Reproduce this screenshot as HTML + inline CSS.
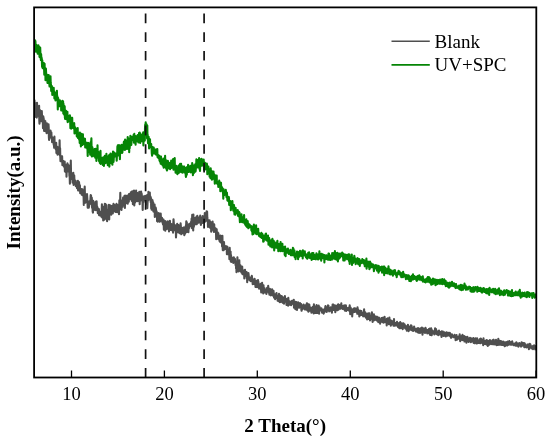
<!DOCTYPE html>
<html><head><meta charset="utf-8"><title>XRD</title>
<style>
html,body{margin:0;padding:0;background:#fff;}
body{width:550px;height:441px;overflow:hidden;}
svg{display:block;}
text{font-family:"Liberation Serif","Times New Roman",serif;fill:#000;}
</style></head><body>
<svg width="550" height="441" viewBox="0 0 550 441">
<rect width="550" height="441" fill="#fff"/>
<defs><clipPath id="c"><rect x="34" y="7.5" width="502.1" height="370"/></clipPath></defs>
<g clip-path="url(#c)" fill="none" stroke-linejoin="round" stroke-linecap="round">
<path d="M34.3,100.0 L34.5,100.3 L34.8,108.2 L35.0,117.0 L35.2,103.1 L35.4,111.3 L35.7,108.9 L35.9,103.9 L36.1,107.6 L36.4,108.2 L36.6,106.8 L36.8,117.6 L37.0,102.7 L37.3,112.2 L37.5,112.4 L37.7,109.2 L38.0,112.5 L38.2,115.8 L38.4,113.3 L38.6,114.8 L38.9,116.3 L39.1,105.8 L39.3,120.2 L39.5,123.8 L39.8,119.0 L40.0,119.6 L40.2,110.3 L40.5,115.8 L40.7,113.5 L40.9,114.8 L41.1,121.3 L41.4,114.7 L41.6,117.8 L41.8,111.1 L42.1,118.4 L42.3,119.8 L42.5,117.0 L42.7,117.4 L43.0,128.1 L43.2,116.2 L43.4,117.2 L43.7,118.6 L43.9,127.0 L44.1,131.0 L44.3,124.3 L44.6,120.6 L44.8,122.1 L45.0,128.5 L45.3,121.0 L45.5,130.8 L45.7,131.1 L45.9,126.2 L46.2,128.9 L46.4,129.7 L46.6,133.3 L46.9,123.4 L47.1,132.7 L47.3,127.0 L47.5,125.9 L47.8,129.8 L48.0,129.0 L48.2,126.4 L48.5,124.4 L48.7,127.4 L48.9,137.4 L49.1,139.9 L49.4,135.1 L49.6,137.7 L49.8,131.4 L50.0,133.6 L50.3,135.5 L50.5,130.6 L50.7,131.4 L51.0,136.2 L51.2,135.0 L51.4,132.6 L51.6,138.8 L51.9,136.7 L52.1,142.3 L52.3,138.7 L52.6,138.0 L52.8,140.2 L53.0,139.5 L53.2,138.0 L53.5,139.6 L53.7,144.7 L53.9,144.8 L54.2,147.8 L54.4,136.5 L54.6,142.2 L54.8,142.6 L55.1,145.4 L55.3,143.5 L55.5,143.7 L55.8,149.4 L56.0,147.5 L56.2,142.7 L56.4,153.1 L56.7,152.2 L56.9,146.5 L57.1,152.5 L57.4,146.9 L57.6,154.7 L57.8,149.9 L58.0,148.1 L58.3,150.3 L58.5,149.2 L58.7,153.5 L58.9,153.9 L59.2,153.9 L59.4,152.0 L59.6,140.3 L59.9,155.6 L60.1,148.2 L60.3,157.1 L60.5,161.1 L60.8,158.2 L61.0,156.1 L61.2,157.4 L61.5,158.0 L61.7,156.9 L61.9,157.2 L62.1,156.3 L62.4,165.1 L62.6,160.8 L62.8,165.1 L63.1,160.8 L63.3,162.5 L63.5,161.9 L63.7,164.9 L64.0,166.7 L64.2,164.8 L64.4,161.6 L64.7,161.6 L64.9,171.5 L65.1,164.3 L65.3,164.6 L65.6,171.9 L65.8,170.8 L66.0,169.0 L66.3,165.7 L66.5,176.8 L66.7,169.5 L66.9,170.4 L67.2,168.0 L67.4,163.4 L67.6,164.1 L67.9,171.3 L68.1,171.5 L68.3,169.4 L68.5,166.1 L68.8,165.4 L69.0,170.1 L69.2,166.0 L69.4,175.6 L69.7,176.9 L69.9,183.8 L70.1,176.5 L70.4,171.1 L70.6,170.3 L70.8,160.6 L71.0,172.1 L71.3,174.1 L71.5,179.0 L71.7,178.0 L72.0,178.2 L72.2,177.1 L72.4,179.3 L72.6,182.7 L72.9,173.3 L73.1,176.1 L73.3,172.9 L73.6,185.0 L73.8,184.2 L74.0,182.5 L74.2,175.3 L74.5,181.0 L74.7,179.9 L74.9,181.5 L75.2,180.9 L75.4,184.1 L75.6,180.9 L75.8,186.2 L76.1,184.3 L76.3,182.6 L76.5,183.7 L76.8,182.8 L77.0,188.2 L77.2,184.3 L77.4,186.9 L77.7,184.7 L77.9,180.8 L78.1,190.5 L78.4,183.3 L78.6,190.4 L78.8,189.8 L79.0,182.1 L79.3,185.2 L79.5,187.2 L79.7,186.4 L79.9,185.3 L80.2,193.1 L80.4,189.7 L80.6,192.4 L80.9,189.6 L81.1,192.8 L81.3,189.0 L81.5,192.1 L81.8,194.8 L82.0,193.0 L82.2,191.4 L82.5,189.2 L82.7,194.4 L82.9,195.4 L83.1,193.4 L83.4,191.7 L83.6,197.1 L83.8,204.9 L84.1,194.4 L84.3,197.2 L84.5,197.6 L84.7,186.5 L85.0,197.2 L85.2,194.3 L85.4,202.7 L85.7,196.6 L85.9,194.8 L86.1,197.3 L86.3,199.1 L86.6,196.5 L86.8,198.7 L87.0,194.0 L87.3,198.6 L87.5,202.7 L87.7,207.6 L87.9,203.0 L88.2,201.6 L88.4,205.4 L88.6,205.0 L88.8,207.7 L89.1,205.7 L89.3,201.3 L89.5,203.0 L89.8,202.9 L90.0,203.7 L90.2,203.5 L90.4,199.9 L90.7,195.1 L90.9,200.8 L91.1,195.8 L91.4,204.1 L91.6,204.1 L91.8,197.8 L92.0,207.2 L92.3,208.1 L92.5,205.3 L92.7,211.6 L93.0,212.6 L93.2,200.9 L93.4,209.7 L93.6,207.6 L93.9,207.7 L94.1,209.9 L94.3,203.8 L94.6,204.4 L94.8,203.7 L95.0,204.2 L95.2,206.9 L95.5,201.9 L95.7,203.7 L95.9,210.2 L96.2,207.9 L96.4,209.8 L96.6,201.3 L96.8,205.8 L97.1,206.9 L97.3,209.4 L97.5,207.3 L97.8,213.3 L98.0,209.8 L98.2,210.3 L98.4,210.5 L98.7,213.3 L98.9,209.0 L99.1,215.3 L99.3,212.9 L99.6,211.9 L99.8,211.6 L100.0,213.5 L100.3,215.5 L100.5,215.3 L100.7,213.2 L100.9,215.2 L101.2,212.4 L101.4,216.8 L101.6,212.0 L101.9,204.2 L102.1,217.4 L102.3,212.7 L102.5,207.8 L102.8,211.6 L103.0,209.0 L103.2,220.5 L103.5,214.4 L103.7,206.5 L103.9,214.6 L104.1,211.0 L104.4,219.8 L104.6,208.4 L104.8,203.9 L105.1,212.7 L105.3,211.1 L105.5,210.8 L105.7,204.2 L106.0,214.0 L106.2,218.7 L106.4,205.0 L106.7,216.7 L106.9,210.0 L107.1,221.2 L107.3,213.8 L107.6,211.4 L107.8,216.3 L108.0,214.0 L108.2,209.7 L108.5,214.6 L108.7,209.9 L108.9,204.9 L109.2,219.4 L109.4,210.2 L109.6,209.1 L109.8,212.6 L110.1,205.2 L110.3,205.8 L110.5,209.0 L110.8,208.8 L111.0,210.9 L111.2,214.7 L111.4,208.5 L111.7,212.0 L111.9,212.3 L112.1,205.7 L112.4,210.5 L112.6,205.9 L112.8,213.4 L113.0,210.9 L113.3,209.0 L113.5,203.7 L113.7,209.1 L114.0,205.6 L114.2,211.1 L114.4,207.8 L114.6,205.0 L114.9,211.4 L115.1,210.5 L115.3,205.3 L115.6,211.9 L115.8,206.1 L116.0,205.9 L116.2,207.4 L116.5,203.9 L116.7,204.9 L116.9,205.8 L117.2,212.1 L117.4,211.8 L117.6,205.0 L117.8,211.9 L118.1,205.5 L118.3,206.9 L118.5,208.7 L118.7,206.3 L119.0,214.2 L119.2,205.8 L119.4,200.2 L119.7,209.5 L119.9,202.9 L120.1,203.1 L120.3,192.8 L120.6,207.8 L120.8,207.0 L121.0,206.8 L121.3,207.3 L121.5,209.9 L121.7,203.2 L121.9,206.8 L122.2,200.3 L122.4,201.6 L122.6,206.8 L122.9,204.2 L123.1,197.5 L123.3,203.8 L123.5,201.6 L123.8,199.1 L124.0,203.6 L124.2,200.3 L124.5,195.8 L124.7,197.4 L124.9,208.0 L125.1,195.6 L125.4,201.9 L125.6,203.2 L125.8,203.2 L126.1,196.0 L126.3,199.3 L126.5,200.8 L126.7,203.1 L127.0,197.6 L127.2,195.5 L127.4,203.4 L127.7,203.6 L127.9,200.7 L128.1,196.9 L128.3,200.5 L128.6,199.3 L128.8,201.8 L129.0,194.0 L129.2,198.9 L129.5,197.7 L129.7,194.1 L129.9,198.8 L130.2,198.0 L130.4,196.3 L130.6,199.1 L130.8,192.3 L131.1,197.2 L131.3,198.8 L131.5,198.1 L131.8,200.9 L132.0,192.4 L132.2,191.2 L132.4,197.5 L132.7,198.1 L132.9,204.1 L133.1,198.5 L133.4,193.0 L133.6,199.1 L133.8,192.9 L134.0,190.6 L134.3,205.5 L134.5,197.1 L134.7,198.5 L135.0,197.9 L135.2,202.4 L135.4,196.8 L135.6,200.1 L135.9,191.9 L136.1,190.6 L136.3,200.8 L136.6,200.9 L136.8,197.4 L137.0,196.4 L137.2,196.1 L137.5,193.0 L137.7,201.1 L137.9,197.9 L138.1,197.3 L138.4,196.9 L138.6,199.4 L138.8,197.5 L139.1,198.5 L139.3,191.7 L139.5,197.9 L139.7,204.1 L140.0,194.5 L140.2,196.1 L140.4,199.9 L140.7,200.3 L140.9,199.3 L141.1,191.5 L141.3,199.3 L141.6,193.4 L141.8,194.9 L142.0,200.0 L142.3,197.2 L142.5,201.4 L142.7,210.0 L142.9,201.8 L143.2,201.9 L143.4,196.5 L143.6,197.7 L143.9,196.4 L144.1,198.6 L144.3,196.8 L144.5,198.5 L144.8,200.2 L145.0,197.4 L145.2,195.9 L145.5,196.1 L145.7,202.5 L145.9,201.0 L146.1,204.3 L146.4,204.3 L146.6,199.2 L146.8,202.7 L147.1,195.1 L147.3,208.2 L147.5,204.2 L147.7,199.0 L148.0,195.4 L148.2,200.4 L148.4,191.9 L148.6,195.0 L148.9,199.5 L149.1,196.3 L149.3,193.9 L149.6,199.0 L149.8,192.6 L150.0,198.2 L150.2,196.7 L150.5,196.6 L150.7,202.1 L150.9,197.8 L151.2,208.5 L151.4,200.3 L151.6,209.7 L151.8,199.5 L152.1,205.9 L152.3,200.1 L152.5,200.2 L152.8,206.0 L153.0,208.4 L153.2,202.3 L153.4,211.5 L153.7,205.3 L153.9,209.2 L154.1,210.7 L154.4,212.1 L154.6,204.5 L154.8,216.9 L155.0,213.8 L155.3,211.0 L155.5,209.5 L155.7,207.6 L156.0,209.2 L156.2,216.2 L156.4,213.5 L156.6,211.2 L156.9,213.7 L157.1,221.2 L157.3,215.1 L157.5,214.6 L157.8,221.6 L158.0,218.9 L158.2,217.8 L158.5,215.9 L158.7,213.0 L158.9,214.6 L159.1,217.3 L159.4,218.5 L159.6,220.8 L159.8,221.7 L160.1,220.9 L160.3,221.1 L160.5,217.2 L160.7,213.6 L161.0,219.3 L161.2,218.1 L161.4,219.3 L161.7,220.8 L161.9,217.7 L162.1,218.3 L162.3,221.9 L162.6,222.8 L162.8,220.3 L163.0,224.4 L163.3,222.1 L163.5,219.6 L163.7,223.3 L163.9,229.6 L164.2,221.1 L164.4,227.4 L164.6,228.2 L164.9,228.8 L165.1,221.1 L165.3,230.7 L165.5,224.5 L165.8,223.3 L166.0,223.5 L166.2,226.4 L166.5,224.7 L166.7,224.0 L166.9,229.0 L167.1,222.4 L167.4,221.4 L167.6,227.6 L167.8,227.4 L168.0,228.8 L168.3,221.7 L168.5,228.9 L168.7,227.0 L169.0,231.4 L169.2,221.5 L169.4,226.5 L169.6,224.9 L169.9,220.7 L170.1,223.7 L170.3,229.9 L170.6,224.7 L170.8,224.0 L171.0,229.3 L171.2,229.8 L171.5,229.9 L171.7,224.2 L171.9,226.7 L172.2,230.4 L172.4,225.0 L172.6,224.8 L172.8,230.1 L173.1,232.6 L173.3,223.8 L173.5,219.2 L173.8,223.1 L174.0,224.6 L174.2,227.6 L174.4,230.1 L174.7,227.7 L174.9,226.0 L175.1,228.9 L175.4,225.4 L175.6,228.4 L175.8,226.6 L176.0,237.4 L176.3,231.4 L176.5,226.2 L176.7,225.7 L177.0,227.6 L177.2,223.7 L177.4,226.7 L177.6,226.8 L177.9,232.1 L178.1,227.9 L178.3,226.8 L178.5,225.1 L178.8,225.6 L179.0,229.3 L179.2,228.8 L179.5,233.2 L179.7,227.6 L179.9,233.1 L180.1,230.5 L180.4,229.7 L180.6,223.4 L180.8,225.7 L181.1,232.2 L181.3,234.3 L181.5,230.6 L181.7,232.4 L182.0,228.7 L182.2,228.8 L182.4,227.9 L182.7,233.1 L182.9,231.1 L183.1,229.3 L183.3,228.9 L183.6,231.7 L183.8,230.9 L184.0,227.2 L184.3,235.1 L184.5,230.4 L184.7,229.5 L184.9,234.0 L185.2,232.5 L185.4,228.8 L185.6,230.6 L185.9,225.4 L186.1,226.6 L186.3,221.4 L186.5,232.1 L186.8,222.2 L187.0,230.1 L187.2,225.2 L187.4,224.6 L187.7,226.8 L187.9,228.0 L188.1,228.9 L188.4,232.2 L188.6,227.6 L188.8,229.0 L189.0,224.1 L189.3,227.9 L189.5,225.9 L189.7,223.8 L190.0,224.7 L190.2,224.6 L190.4,225.2 L190.6,225.7 L190.9,222.7 L191.1,221.8 L191.3,226.2 L191.6,218.5 L191.8,221.6 L192.0,228.1 L192.2,214.9 L192.5,220.9 L192.7,225.0 L192.9,217.6 L193.2,230.5 L193.4,214.5 L193.6,226.6 L193.8,226.9 L194.1,224.8 L194.3,221.1 L194.5,222.8 L194.8,218.8 L195.0,223.9 L195.2,217.9 L195.4,220.4 L195.7,224.1 L195.9,217.6 L196.1,219.7 L196.4,221.2 L196.6,216.6 L196.8,224.1 L197.0,221.5 L197.3,215.7 L197.5,220.1 L197.7,217.8 L197.9,218.0 L198.2,220.2 L198.4,217.7 L198.6,222.6 L198.9,217.5 L199.1,222.4 L199.3,219.2 L199.5,221.8 L199.8,217.5 L200.0,217.5 L200.2,215.5 L200.5,220.6 L200.7,221.6 L200.9,225.0 L201.1,222.5 L201.4,219.3 L201.6,217.9 L201.8,219.7 L202.1,218.4 L202.3,222.9 L202.5,221.3 L202.7,216.0 L203.0,216.5 L203.2,222.7 L203.4,219.5 L203.7,218.0 L203.9,222.2 L204.1,217.6 L204.3,218.0 L204.6,217.5 L204.8,213.1 L205.0,221.6 L205.3,215.5 L205.5,217.4 L205.7,216.8 L205.9,220.9 L206.2,217.9 L206.4,217.3 L206.6,211.4 L206.8,215.5 L207.1,211.6 L207.3,217.7 L207.5,219.3 L207.8,219.7 L208.0,226.9 L208.2,223.3 L208.4,224.1 L208.7,223.2 L208.9,222.5 L209.1,226.2 L209.4,227.0 L209.6,220.2 L209.8,227.4 L210.0,226.2 L210.3,227.8 L210.5,226.7 L210.7,222.1 L211.0,222.6 L211.2,231.7 L211.4,227.4 L211.6,222.9 L211.9,228.3 L212.1,226.6 L212.3,222.6 L212.6,221.6 L212.8,223.9 L213.0,229.7 L213.2,229.1 L213.5,228.8 L213.7,230.7 L213.9,231.9 L214.2,224.4 L214.4,229.9 L214.6,228.7 L214.8,227.9 L215.1,230.2 L215.3,231.7 L215.5,231.6 L215.8,228.6 L216.0,231.7 L216.2,239.2 L216.4,230.7 L216.7,229.2 L216.9,235.2 L217.1,236.4 L217.3,236.4 L217.6,232.2 L217.8,238.6 L218.0,233.8 L218.3,233.2 L218.5,235.0 L218.7,236.8 L218.9,239.5 L219.2,239.6 L219.4,238.1 L219.6,241.1 L219.9,239.1 L220.1,241.8 L220.3,235.6 L220.5,235.5 L220.8,242.5 L221.0,236.7 L221.2,240.2 L221.5,241.1 L221.7,240.4 L221.9,240.8 L222.1,246.4 L222.4,235.7 L222.6,245.7 L222.8,250.1 L223.1,244.0 L223.3,244.3 L223.5,246.7 L223.7,250.2 L224.0,242.1 L224.2,246.0 L224.4,245.6 L224.7,248.0 L224.9,247.3 L225.1,249.0 L225.3,246.3 L225.6,248.0 L225.8,246.3 L226.0,246.7 L226.2,248.5 L226.5,248.9 L226.7,246.3 L226.9,254.3 L227.2,249.9 L227.4,246.8 L227.6,254.1 L227.8,249.3 L228.1,253.1 L228.3,252.0 L228.5,253.1 L228.8,253.2 L229.0,251.4 L229.2,253.5 L229.4,259.3 L229.7,247.8 L229.9,254.5 L230.1,255.9 L230.4,252.1 L230.6,251.6 L230.8,261.6 L231.0,255.0 L231.3,262.0 L231.5,258.1 L231.7,257.2 L232.0,258.6 L232.2,259.4 L232.4,261.2 L232.6,259.5 L232.9,259.0 L233.1,259.4 L233.3,263.0 L233.6,261.8 L233.8,257.2 L234.0,258.5 L234.2,261.4 L234.5,259.2 L234.7,260.2 L234.9,258.9 L235.2,261.1 L235.4,263.3 L235.6,265.1 L235.8,262.8 L236.1,268.7 L236.3,263.2 L236.5,272.3 L236.7,266.7 L237.0,265.6 L237.2,263.2 L237.4,257.2 L237.7,264.7 L237.9,265.9 L238.1,270.9 L238.3,262.3 L238.6,271.4 L238.8,265.9 L239.0,268.8 L239.3,260.3 L239.5,267.8 L239.7,266.7 L239.9,269.8 L240.2,268.4 L240.4,265.4 L240.6,271.3 L240.9,270.8 L241.1,270.8 L241.3,272.2 L241.5,272.7 L241.8,269.9 L242.0,266.6 L242.2,266.8 L242.5,274.3 L242.7,272.9 L242.9,271.5 L243.1,270.3 L243.4,271.8 L243.6,272.0 L243.8,271.3 L244.1,270.6 L244.3,278.4 L244.5,273.5 L244.7,271.5 L245.0,269.9 L245.2,271.7 L245.4,275.7 L245.7,276.1 L245.9,273.7 L246.1,274.6 L246.3,273.9 L246.6,272.0 L246.8,278.6 L247.0,276.3 L247.2,282.1 L247.5,273.8 L247.7,275.6 L247.9,278.5 L248.2,275.8 L248.4,273.0 L248.6,274.3 L248.8,277.3 L249.1,278.1 L249.3,277.2 L249.5,280.2 L249.8,280.4 L250.0,278.8 L250.2,278.2 L250.4,277.7 L250.7,280.0 L250.9,281.1 L251.1,279.1 L251.4,280.2 L251.6,278.4 L251.8,275.8 L252.0,277.0 L252.3,281.7 L252.5,281.1 L252.7,284.2 L253.0,280.4 L253.2,282.6 L253.4,284.0 L253.6,283.3 L253.9,279.3 L254.1,280.6 L254.3,281.5 L254.6,278.8 L254.8,282.7 L255.0,284.3 L255.2,280.6 L255.5,287.0 L255.7,281.4 L255.9,281.7 L256.1,281.8 L256.4,280.8 L256.6,283.8 L256.8,282.9 L257.1,287.2 L257.3,284.7 L257.5,284.7 L257.7,282.9 L258.0,280.0 L258.2,283.5 L258.4,281.8 L258.7,286.5 L258.9,284.2 L259.1,288.6 L259.3,286.4 L259.6,286.8 L259.8,285.4 L260.0,285.5 L260.3,286.8 L260.5,287.7 L260.7,283.7 L260.9,286.9 L261.2,292.4 L261.4,285.8 L261.6,285.5 L261.9,284.6 L262.1,282.8 L262.3,289.6 L262.5,286.9 L262.8,287.7 L263.0,291.7 L263.2,293.5 L263.5,285.2 L263.7,290.2 L263.9,289.3 L264.1,288.9 L264.4,289.3 L264.6,288.2 L264.8,292.4 L265.1,290.1 L265.3,289.6 L265.5,292.0 L265.7,291.3 L266.0,290.4 L266.2,290.2 L266.4,293.9 L266.6,291.0 L266.9,289.6 L267.1,287.9 L267.3,289.3 L267.6,287.8 L267.8,290.8 L268.0,291.3 L268.2,285.8 L268.5,291.0 L268.7,292.7 L268.9,291.7 L269.2,289.1 L269.4,294.7 L269.6,290.0 L269.8,288.9 L270.1,289.4 L270.3,292.2 L270.5,294.8 L270.8,295.4 L271.0,293.2 L271.2,289.9 L271.4,291.4 L271.7,291.0 L271.9,292.9 L272.1,289.2 L272.4,293.9 L272.6,295.4 L272.8,293.6 L273.0,295.2 L273.3,292.0 L273.5,290.9 L273.7,293.1 L274.0,297.5 L274.2,297.4 L274.4,294.0 L274.6,298.1 L274.9,294.6 L275.1,299.2 L275.3,296.9 L275.5,294.8 L275.8,297.9 L276.0,294.3 L276.2,294.1 L276.5,293.0 L276.7,297.2 L276.9,296.6 L277.1,296.7 L277.4,296.1 L277.6,300.6 L277.8,296.3 L278.1,295.7 L278.3,300.5 L278.5,301.1 L278.7,298.6 L279.0,293.8 L279.2,296.7 L279.4,299.7 L279.7,298.4 L279.9,302.1 L280.1,295.3 L280.3,300.3 L280.6,297.3 L280.8,302.0 L281.0,298.8 L281.3,301.5 L281.5,297.7 L281.7,296.0 L281.9,296.8 L282.2,298.1 L282.4,297.2 L282.6,302.5 L282.9,302.9 L283.1,300.5 L283.3,297.6 L283.5,299.8 L283.8,298.6 L284.0,303.7 L284.2,301.1 L284.5,301.6 L284.7,299.6 L284.9,296.0 L285.1,299.0 L285.4,298.2 L285.6,301.8 L285.8,301.2 L286.0,299.2 L286.3,300.3 L286.5,304.9 L286.7,299.1 L287.0,299.3 L287.2,301.0 L287.4,300.0 L287.6,300.7 L287.9,303.0 L288.1,305.8 L288.3,297.8 L288.6,302.0 L288.8,302.2 L289.0,302.0 L289.2,301.8 L289.5,301.5 L289.7,304.7 L289.9,301.4 L290.2,302.3 L290.4,302.6 L290.6,303.0 L290.8,302.4 L291.1,305.1 L291.3,302.9 L291.5,303.4 L291.8,303.0 L292.0,300.9 L292.2,301.3 L292.4,300.9 L292.7,303.8 L292.9,301.8 L293.1,301.1 L293.4,304.1 L293.6,304.8 L293.8,299.7 L294.0,307.6 L294.3,303.9 L294.5,303.7 L294.7,306.4 L295.0,304.2 L295.2,302.8 L295.4,309.1 L295.6,301.8 L295.9,304.1 L296.1,306.3 L296.3,302.0 L296.5,304.3 L296.8,305.4 L297.0,310.0 L297.2,302.7 L297.5,304.7 L297.7,306.3 L297.9,305.1 L298.1,302.3 L298.4,305.9 L298.6,305.3 L298.8,306.1 L299.1,307.7 L299.3,307.5 L299.5,306.3 L299.7,306.1 L300.0,303.1 L300.2,305.3 L300.4,306.1 L300.7,304.8 L300.9,306.0 L301.1,304.0 L301.3,309.3 L301.6,310.7 L301.8,305.2 L302.0,307.0 L302.3,305.7 L302.5,309.1 L302.7,307.3 L302.9,306.6 L303.2,306.0 L303.4,306.9 L303.6,304.5 L303.9,308.2 L304.1,305.3 L304.3,308.1 L304.5,307.3 L304.8,309.4 L305.0,307.1 L305.2,309.4 L305.4,305.3 L305.7,308.7 L305.9,306.9 L306.1,307.9 L306.4,307.7 L306.6,309.7 L306.8,303.3 L307.0,308.5 L307.3,304.6 L307.5,310.5 L307.7,303.7 L308.0,305.9 L308.2,304.5 L308.4,311.7 L308.6,305.4 L308.9,308.5 L309.1,307.2 L309.3,304.5 L309.6,307.7 L309.8,309.9 L310.0,308.1 L310.2,310.6 L310.5,307.8 L310.7,308.7 L310.9,307.9 L311.2,309.5 L311.4,312.8 L311.6,309.6 L311.8,309.3 L312.1,307.6 L312.3,307.4 L312.5,312.1 L312.8,306.7 L313.0,307.2 L313.2,309.0 L313.4,308.3 L313.7,313.4 L313.9,304.3 L314.1,310.1 L314.4,310.9 L314.6,307.0 L314.8,308.1 L315.0,310.4 L315.3,313.0 L315.5,307.6 L315.7,306.3 L315.9,311.7 L316.2,312.9 L316.4,309.0 L316.6,305.1 L316.9,312.9 L317.1,309.4 L317.3,312.2 L317.5,309.8 L317.8,309.1 L318.0,309.0 L318.2,313.0 L318.5,313.0 L318.7,305.5 L318.9,308.0 L319.1,313.7 L319.4,309.2 L319.6,307.1 L319.8,310.0 L320.1,309.8 L320.3,309.8 L320.5,309.0 L320.7,309.3 L321.0,309.0 L321.2,310.7 L321.4,308.3 L321.7,309.4 L321.9,309.7 L322.1,312.7 L322.3,310.7 L322.6,309.7 L322.8,311.1 L323.0,310.8 L323.3,312.2 L323.5,311.0 L323.7,313.6 L323.9,312.7 L324.2,309.8 L324.4,309.0 L324.6,311.7 L324.8,310.9 L325.1,309.6 L325.3,306.8 L325.5,306.0 L325.8,310.5 L326.0,311.4 L326.2,311.4 L326.4,307.1 L326.7,311.9 L326.9,308.6 L327.1,310.5 L327.4,310.6 L327.6,308.0 L327.8,308.5 L328.0,305.4 L328.3,307.8 L328.5,305.9 L328.7,310.5 L329.0,309.7 L329.2,311.4 L329.4,310.3 L329.6,308.2 L329.9,310.2 L330.1,308.7 L330.3,310.7 L330.6,310.1 L330.8,307.4 L331.0,309.4 L331.2,309.5 L331.5,308.7 L331.7,311.1 L331.9,312.7 L332.2,308.4 L332.4,308.4 L332.6,304.5 L332.8,308.7 L333.1,308.0 L333.3,304.5 L333.5,309.4 L333.8,309.9 L334.0,307.2 L334.2,307.9 L334.4,306.6 L334.7,310.0 L334.9,305.4 L335.1,307.7 L335.3,312.2 L335.6,308.3 L335.8,309.1 L336.0,307.8 L336.3,305.7 L336.5,307.9 L336.7,308.8 L336.9,305.8 L337.2,308.5 L337.4,310.3 L337.6,309.9 L337.9,304.5 L338.1,305.7 L338.3,304.4 L338.5,309.7 L338.8,308.8 L339.0,309.0 L339.2,305.8 L339.5,305.2 L339.7,307.7 L339.9,307.7 L340.1,305.8 L340.4,307.8 L340.6,308.8 L340.8,308.0 L341.1,305.5 L341.3,303.3 L341.5,307.0 L341.7,307.9 L342.0,307.0 L342.2,306.7 L342.4,306.2 L342.7,309.0 L342.9,307.5 L343.1,307.9 L343.3,305.8 L343.6,306.5 L343.8,308.0 L344.0,305.8 L344.3,305.3 L344.5,307.2 L344.7,310.2 L344.9,308.2 L345.2,310.8 L345.4,307.7 L345.6,307.3 L345.8,305.2 L346.1,306.9 L346.3,310.9 L346.5,308.7 L346.8,309.6 L347.0,309.6 L347.2,308.3 L347.4,308.0 L347.7,308.7 L347.9,309.9 L348.1,309.6 L348.4,309.8 L348.6,309.2 L348.8,307.5 L349.0,308.6 L349.3,307.4 L349.5,311.3 L349.7,305.3 L350.0,309.1 L350.2,314.2 L350.4,309.0 L350.6,307.5 L350.9,309.8 L351.1,312.4 L351.3,309.7 L351.6,311.2 L351.8,310.3 L352.0,309.5 L352.2,316.4 L352.5,310.5 L352.7,309.4 L352.9,309.6 L353.2,311.4 L353.4,311.5 L353.6,312.3 L353.8,311.1 L354.1,308.2 L354.3,312.0 L354.5,310.5 L354.7,310.6 L355.0,308.4 L355.2,310.2 L355.4,310.0 L355.7,311.4 L355.9,308.8 L356.1,311.8 L356.3,312.0 L356.6,309.7 L356.8,310.7 L357.0,310.3 L357.3,313.8 L357.5,307.3 L357.7,311.6 L357.9,309.1 L358.2,311.5 L358.4,314.0 L358.6,311.3 L358.9,312.9 L359.1,311.1 L359.3,316.4 L359.5,314.6 L359.8,315.0 L360.0,310.5 L360.2,311.0 L360.5,315.2 L360.7,312.9 L360.9,312.8 L361.1,314.0 L361.4,311.1 L361.6,315.0 L361.8,313.7 L362.1,314.6 L362.3,312.6 L362.5,314.9 L362.7,312.7 L363.0,315.8 L363.2,316.3 L363.4,315.9 L363.7,315.3 L363.9,315.6 L364.1,309.4 L364.3,316.1 L364.6,314.1 L364.8,314.9 L365.0,314.3 L365.2,312.3 L365.5,314.0 L365.7,316.3 L365.9,317.7 L366.2,314.0 L366.4,313.6 L366.6,318.0 L366.8,313.8 L367.1,319.4 L367.3,315.7 L367.5,314.0 L367.8,317.6 L368.0,319.0 L368.2,313.3 L368.4,318.9 L368.7,315.5 L368.9,318.9 L369.1,315.5 L369.4,313.4 L369.6,317.3 L369.8,318.1 L370.0,320.4 L370.3,319.7 L370.5,317.9 L370.7,316.3 L371.0,315.9 L371.2,316.3 L371.4,315.4 L371.6,316.5 L371.9,312.4 L372.1,317.5 L372.3,317.2 L372.6,322.0 L372.8,318.7 L373.0,316.6 L373.2,318.5 L373.5,315.3 L373.7,316.5 L373.9,314.3 L374.1,320.4 L374.4,318.9 L374.6,315.8 L374.8,317.9 L375.1,319.8 L375.3,319.0 L375.5,318.9 L375.7,316.7 L376.0,317.2 L376.2,318.6 L376.4,320.1 L376.7,317.0 L376.9,316.6 L377.1,320.7 L377.3,317.0 L377.6,320.7 L377.8,319.3 L378.0,320.5 L378.3,322.1 L378.5,320.3 L378.7,320.5 L378.9,317.5 L379.2,318.0 L379.4,320.5 L379.6,322.1 L379.9,321.9 L380.1,323.7 L380.3,320.1 L380.5,320.0 L380.8,321.5 L381.0,319.8 L381.2,319.8 L381.5,318.1 L381.7,321.8 L381.9,318.2 L382.1,321.0 L382.4,317.7 L382.6,322.2 L382.8,318.5 L383.1,321.9 L383.3,317.7 L383.5,319.8 L383.7,322.7 L384.0,319.3 L384.2,320.9 L384.4,320.0 L384.6,316.8 L384.9,321.5 L385.1,321.8 L385.3,319.2 L385.6,322.2 L385.8,319.8 L386.0,319.5 L386.2,321.4 L386.5,320.2 L386.7,325.5 L386.9,318.9 L387.2,322.9 L387.4,323.4 L387.6,318.3 L387.8,318.8 L388.1,322.9 L388.3,321.2 L388.5,322.7 L388.8,324.1 L389.0,321.5 L389.2,320.4 L389.4,317.6 L389.7,322.8 L389.9,320.9 L390.1,323.1 L390.4,323.0 L390.6,320.3 L390.8,325.7 L391.0,324.7 L391.3,324.3 L391.5,320.9 L391.7,322.3 L392.0,322.2 L392.2,322.5 L392.4,321.3 L392.6,324.1 L392.9,323.8 L393.1,324.1 L393.3,322.6 L393.5,325.8 L393.8,324.0 L394.0,319.0 L394.2,322.7 L394.5,323.8 L394.7,325.6 L394.9,323.5 L395.1,323.7 L395.4,323.0 L395.6,325.4 L395.8,323.5 L396.1,323.3 L396.3,323.2 L396.5,325.4 L396.7,323.7 L397.0,321.8 L397.2,325.8 L397.4,323.6 L397.7,325.4 L397.9,325.5 L398.1,327.0 L398.3,326.8 L398.6,324.1 L398.8,324.9 L399.0,323.1 L399.3,328.1 L399.5,326.1 L399.7,327.8 L399.9,324.9 L400.2,322.1 L400.4,328.2 L400.6,325.8 L400.9,326.0 L401.1,325.9 L401.3,326.9 L401.5,326.8 L401.8,323.3 L402.0,327.9 L402.2,325.2 L402.5,325.4 L402.7,329.1 L402.9,327.8 L403.1,325.8 L403.4,323.3 L403.6,326.7 L403.8,327.4 L404.0,326.4 L404.3,324.5 L404.5,325.4 L404.7,324.6 L405.0,327.2 L405.2,328.2 L405.4,328.6 L405.6,325.8 L405.9,327.4 L406.1,328.0 L406.3,326.3 L406.6,327.0 L406.8,330.8 L407.0,327.7 L407.2,328.8 L407.5,326.7 L407.7,327.5 L407.9,324.7 L408.2,327.5 L408.4,329.6 L408.6,331.2 L408.8,329.7 L409.1,328.9 L409.3,327.9 L409.5,326.9 L409.8,327.7 L410.0,329.0 L410.2,326.7 L410.4,329.6 L410.7,326.5 L410.9,325.2 L411.1,326.6 L411.4,325.5 L411.6,326.1 L411.8,330.3 L412.0,328.1 L412.3,328.9 L412.5,330.5 L412.7,330.7 L413.0,327.8 L413.2,330.9 L413.4,329.4 L413.6,328.8 L413.9,329.6 L414.1,326.5 L414.3,327.6 L414.5,328.8 L414.8,330.0 L415.0,328.5 L415.2,328.9 L415.5,330.8 L415.7,331.5 L415.9,330.5 L416.1,331.4 L416.4,328.7 L416.6,328.9 L416.8,329.9 L417.1,329.0 L417.3,328.7 L417.5,332.3 L417.7,329.3 L418.0,328.1 L418.2,330.5 L418.4,332.7 L418.7,329.9 L418.9,331.8 L419.1,329.1 L419.3,329.1 L419.6,328.8 L419.8,329.7 L420.0,333.0 L420.3,328.2 L420.5,332.8 L420.7,328.5 L420.9,329.8 L421.2,331.6 L421.4,331.3 L421.6,330.7 L421.9,327.6 L422.1,330.9 L422.3,328.7 L422.5,334.6 L422.8,330.1 L423.0,330.8 L423.2,328.6 L423.4,329.8 L423.7,328.5 L423.9,332.2 L424.1,330.2 L424.4,331.6 L424.6,329.6 L424.8,329.9 L425.0,332.9 L425.3,329.2 L425.5,327.9 L425.7,331.5 L426.0,329.1 L426.2,330.2 L426.4,332.5 L426.6,329.7 L426.9,332.5 L427.1,330.0 L427.3,333.5 L427.6,333.3 L427.8,330.4 L428.0,330.9 L428.2,329.9 L428.5,331.6 L428.7,333.2 L428.9,329.0 L429.2,332.9 L429.4,329.3 L429.6,330.1 L429.8,328.6 L430.1,334.9 L430.3,331.6 L430.5,332.0 L430.8,330.5 L431.0,333.4 L431.2,328.3 L431.4,331.8 L431.7,335.3 L431.9,331.2 L432.1,331.8 L432.4,332.9 L432.6,330.6 L432.8,331.9 L433.0,333.5 L433.3,332.3 L433.5,332.6 L433.7,331.5 L433.9,332.6 L434.2,332.2 L434.4,334.5 L434.6,333.3 L434.9,331.8 L435.1,328.3 L435.3,333.4 L435.5,333.5 L435.8,330.8 L436.0,329.1 L436.2,330.5 L436.5,333.9 L436.7,330.7 L436.9,331.7 L437.1,332.9 L437.4,334.5 L437.6,332.6 L437.8,332.5 L438.1,331.8 L438.3,335.3 L438.5,334.4 L438.7,332.6 L439.0,330.6 L439.2,331.6 L439.4,333.8 L439.7,331.8 L439.9,334.4 L440.1,333.6 L440.3,333.5 L440.6,334.2 L440.8,334.0 L441.0,331.8 L441.3,332.7 L441.5,337.0 L441.7,331.4 L441.9,332.7 L442.2,335.2 L442.4,333.3 L442.6,332.3 L442.8,331.5 L443.1,334.5 L443.3,335.4 L443.5,336.0 L443.8,334.0 L444.0,335.6 L444.2,332.4 L444.4,334.3 L444.7,333.0 L444.9,334.5 L445.1,335.4 L445.4,336.0 L445.6,332.8 L445.8,336.4 L446.0,333.7 L446.3,332.9 L446.5,334.3 L446.7,332.4 L447.0,334.7 L447.2,335.3 L447.4,334.5 L447.6,335.8 L447.9,334.5 L448.1,335.0 L448.3,332.8 L448.6,335.2 L448.8,333.9 L449.0,334.6 L449.2,335.2 L449.5,335.7 L449.7,332.8 L449.9,333.0 L450.2,335.1 L450.4,336.3 L450.6,336.2 L450.8,337.1 L451.1,337.8 L451.3,336.6 L451.5,335.8 L451.8,334.3 L452.0,334.4 L452.2,335.2 L452.4,336.4 L452.7,336.4 L452.9,336.1 L453.1,335.9 L453.3,337.2 L453.6,336.6 L453.8,336.8 L454.0,336.8 L454.3,335.5 L454.5,334.8 L454.7,337.2 L454.9,337.2 L455.2,336.2 L455.4,336.0 L455.6,340.2 L455.9,335.5 L456.1,336.4 L456.3,337.2 L456.5,335.0 L456.8,337.1 L457.0,339.7 L457.2,338.4 L457.5,338.0 L457.7,338.0 L457.9,337.3 L458.1,338.6 L458.4,336.9 L458.6,336.6 L458.8,337.4 L459.1,338.7 L459.3,337.9 L459.5,338.5 L459.7,334.3 L460.0,339.4 L460.2,341.2 L460.4,339.7 L460.7,337.1 L460.9,336.4 L461.1,338.2 L461.3,336.2 L461.6,338.9 L461.8,337.0 L462.0,339.4 L462.3,340.1 L462.5,334.8 L462.7,338.5 L462.9,337.0 L463.2,335.9 L463.4,337.2 L463.6,337.9 L463.8,339.9 L464.1,336.0 L464.3,340.0 L464.5,341.5 L464.8,339.4 L465.0,339.3 L465.2,338.5 L465.4,336.8 L465.7,339.5 L465.9,339.3 L466.1,339.9 L466.4,342.7 L466.6,339.9 L466.8,339.5 L467.0,341.3 L467.3,336.9 L467.5,337.2 L467.7,338.5 L468.0,338.1 L468.2,340.2 L468.4,338.7 L468.6,341.9 L468.9,341.6 L469.1,340.5 L469.3,338.8 L469.6,340.4 L469.8,340.7 L470.0,337.9 L470.2,340.1 L470.5,340.7 L470.7,340.0 L470.9,342.1 L471.2,341.6 L471.4,338.5 L471.6,340.0 L471.8,338.6 L472.1,340.8 L472.3,338.7 L472.5,341.4 L472.7,340.7 L473.0,341.6 L473.2,340.0 L473.4,338.0 L473.7,343.0 L473.9,340.1 L474.1,342.5 L474.3,341.1 L474.6,341.5 L474.8,343.3 L475.0,341.1 L475.3,342.8 L475.5,338.4 L475.7,342.1 L475.9,340.4 L476.2,340.6 L476.4,340.9 L476.6,341.5 L476.9,343.5 L477.1,338.2 L477.3,341.1 L477.5,340.0 L477.8,342.9 L478.0,340.5 L478.2,341.9 L478.5,340.7 L478.7,342.3 L478.9,342.9 L479.1,340.8 L479.4,341.5 L479.6,339.3 L479.8,341.9 L480.1,342.8 L480.3,340.7 L480.5,343.3 L480.7,338.5 L481.0,338.8 L481.2,339.6 L481.4,340.9 L481.7,341.7 L481.9,341.6 L482.1,341.7 L482.3,342.9 L482.6,341.1 L482.8,339.9 L483.0,340.0 L483.2,345.1 L483.5,338.3 L483.7,341.7 L483.9,344.1 L484.2,342.7 L484.4,340.7 L484.6,342.0 L484.8,343.3 L485.1,343.9 L485.3,340.7 L485.5,343.2 L485.8,342.5 L486.0,343.8 L486.2,344.2 L486.4,341.7 L486.7,340.0 L486.9,342.8 L487.1,344.9 L487.4,343.3 L487.6,342.6 L487.8,345.9 L488.0,340.8 L488.3,343.7 L488.5,341.5 L488.7,342.5 L489.0,342.5 L489.2,344.7 L489.4,341.0 L489.6,341.7 L489.9,340.1 L490.1,343.2 L490.3,341.8 L490.6,343.2 L490.8,341.0 L491.0,342.1 L491.2,344.2 L491.5,342.4 L491.7,343.6 L491.9,343.5 L492.1,342.2 L492.4,340.4 L492.6,344.3 L492.8,343.1 L493.1,344.3 L493.3,339.9 L493.5,340.4 L493.7,339.7 L494.0,341.6 L494.2,344.5 L494.4,343.8 L494.7,343.0 L494.9,343.2 L495.1,344.2 L495.3,342.7 L495.6,343.7 L495.8,343.4 L496.0,339.9 L496.3,342.6 L496.5,345.2 L496.7,342.7 L496.9,343.1 L497.2,342.4 L497.4,342.6 L497.6,345.0 L497.9,343.0 L498.1,341.9 L498.3,338.8 L498.5,342.6 L498.8,340.5 L499.0,340.8 L499.2,344.6 L499.5,344.5 L499.7,340.7 L499.9,344.8 L500.1,344.2 L500.4,342.4 L500.6,344.6 L500.8,341.1 L501.1,341.8 L501.3,341.4 L501.5,341.9 L501.7,344.9 L502.0,341.6 L502.2,341.9 L502.4,342.2 L502.6,343.9 L502.9,343.1 L503.1,344.9 L503.3,342.6 L503.6,341.7 L503.8,342.9 L504.0,343.7 L504.2,342.3 L504.5,344.0 L504.7,346.3 L504.9,342.8 L505.2,343.7 L505.4,345.6 L505.6,342.7 L505.8,342.4 L506.1,342.1 L506.3,344.2 L506.5,344.4 L506.8,343.5 L507.0,343.7 L507.2,345.5 L507.4,345.0 L507.7,341.6 L507.9,343.7 L508.1,343.9 L508.4,344.8 L508.6,343.4 L508.8,342.8 L509.0,343.1 L509.3,341.1 L509.5,343.7 L509.7,342.9 L510.0,344.4 L510.2,342.3 L510.4,343.1 L510.6,342.4 L510.9,342.2 L511.1,344.8 L511.3,343.1 L511.6,344.5 L511.8,342.2 L512.0,344.0 L512.2,341.4 L512.5,343.2 L512.7,343.1 L512.9,344.7 L513.1,344.2 L513.4,343.7 L513.6,345.1 L513.8,344.2 L514.1,344.7 L514.3,345.1 L514.5,343.9 L514.7,343.6 L515.0,344.5 L515.2,343.4 L515.4,344.6 L515.7,345.7 L515.9,345.3 L516.1,343.5 L516.3,342.3 L516.6,344.0 L516.8,344.0 L517.0,345.7 L517.3,343.6 L517.5,343.9 L517.7,345.3 L517.9,343.6 L518.2,344.0 L518.4,346.7 L518.6,346.4 L518.9,345.2 L519.1,344.7 L519.3,343.0 L519.5,345.2 L519.8,344.5 L520.0,344.7 L520.2,343.7 L520.5,344.5 L520.7,344.2 L520.9,345.0 L521.1,346.6 L521.4,345.1 L521.6,342.3 L521.8,343.3 L522.0,342.5 L522.3,343.6 L522.5,345.6 L522.7,345.4 L523.0,344.0 L523.2,345.3 L523.4,343.9 L523.6,343.0 L523.9,343.1 L524.1,343.9 L524.3,347.2 L524.6,343.3 L524.8,347.0 L525.0,347.2 L525.2,345.1 L525.5,345.3 L525.7,344.6 L525.9,345.5 L526.2,346.5 L526.4,345.6 L526.6,347.1 L526.8,347.4 L527.1,346.3 L527.3,346.3 L527.5,345.8 L527.8,346.4 L528.0,344.4 L528.2,346.6 L528.4,346.4 L528.7,344.9 L528.9,349.2 L529.1,344.9 L529.4,345.1 L529.6,346.7 L529.8,343.7 L530.0,345.3 L530.3,344.3 L530.5,345.2 L530.7,346.4 L531.0,347.1 L531.2,348.2 L531.4,347.9 L531.6,348.4 L531.9,347.6 L532.1,346.2 L532.3,348.5 L532.5,346.3 L532.8,346.1 L533.0,349.2 L533.2,348.2 L533.5,347.5 L533.7,348.3 L533.9,348.5 L534.1,345.4 L534.4,347.2 L534.6,345.7 L534.8,347.6 L535.1,346.6 L535.3,349.4 L535.5,348.3 L535.7,346.5 L536.0,347.7 L536.2,346.1" stroke="#4f4f4f" stroke-width="2.1"/>
<path d="M34.3,42.2 L34.5,44.0 L34.8,42.3 L35.0,40.4 L35.2,42.7 L35.4,41.1 L35.7,45.9 L35.9,51.6 L36.1,44.9 L36.4,44.9 L36.6,50.0 L36.8,50.0 L37.0,49.6 L37.3,46.1 L37.5,50.2 L37.7,53.7 L38.0,46.2 L38.2,50.3 L38.4,45.2 L38.6,48.2 L38.9,46.6 L39.1,53.6 L39.3,50.1 L39.5,56.9 L39.8,57.0 L40.0,56.3 L40.2,47.6 L40.5,56.1 L40.7,58.7 L40.9,60.0 L41.1,54.1 L41.4,58.9 L41.6,57.6 L41.8,58.9 L42.1,67.0 L42.3,60.2 L42.5,64.0 L42.7,68.3 L43.0,63.1 L43.2,65.6 L43.4,67.2 L43.7,67.6 L43.9,63.1 L44.1,68.9 L44.3,74.7 L44.6,63.7 L44.8,73.9 L45.0,71.5 L45.3,69.1 L45.5,80.2 L45.7,75.8 L45.9,68.6 L46.2,74.2 L46.4,76.8 L46.6,74.3 L46.9,78.3 L47.1,75.8 L47.3,79.3 L47.5,82.9 L47.8,75.0 L48.0,79.0 L48.2,76.9 L48.5,79.8 L48.7,75.1 L48.9,78.1 L49.1,80.1 L49.4,85.0 L49.6,86.5 L49.8,77.3 L50.0,80.0 L50.3,86.2 L50.5,76.4 L50.7,83.0 L51.0,85.0 L51.2,91.0 L51.4,89.4 L51.6,85.9 L51.9,86.4 L52.1,87.4 L52.3,95.0 L52.6,87.9 L52.8,88.9 L53.0,92.1 L53.2,90.8 L53.5,91.0 L53.7,87.9 L53.9,92.8 L54.2,91.6 L54.4,98.4 L54.6,96.9 L54.8,94.7 L55.1,97.9 L55.3,94.4 L55.5,100.4 L55.8,96.6 L56.0,99.4 L56.2,92.5 L56.4,99.4 L56.7,91.8 L56.9,90.8 L57.1,98.1 L57.4,96.2 L57.6,100.8 L57.8,109.4 L58.0,97.7 L58.3,99.0 L58.5,102.6 L58.7,104.2 L58.9,102.0 L59.2,102.3 L59.4,106.2 L59.6,105.9 L59.9,100.2 L60.1,104.4 L60.3,105.2 L60.5,101.3 L60.8,106.9 L61.0,102.9 L61.2,110.5 L61.5,107.8 L61.7,107.8 L61.9,105.5 L62.1,107.8 L62.4,100.8 L62.6,104.6 L62.8,110.9 L63.1,101.4 L63.3,113.5 L63.5,103.7 L63.7,113.9 L64.0,108.0 L64.2,114.8 L64.4,112.6 L64.7,106.4 L64.9,117.7 L65.1,118.9 L65.3,113.3 L65.6,112.9 L65.8,113.7 L66.0,110.8 L66.3,119.3 L66.5,113.3 L66.7,115.5 L66.9,113.0 L67.2,114.0 L67.4,111.8 L67.6,122.1 L67.9,117.0 L68.1,121.7 L68.3,118.3 L68.5,115.9 L68.8,117.7 L69.0,117.2 L69.2,119.8 L69.4,118.6 L69.7,119.3 L69.9,115.4 L70.1,118.1 L70.4,128.1 L70.6,119.3 L70.8,118.2 L71.0,124.0 L71.3,128.6 L71.5,117.7 L71.7,123.0 L72.0,121.7 L72.2,117.7 L72.4,127.8 L72.6,125.2 L72.9,125.9 L73.1,123.1 L73.3,128.2 L73.6,124.7 L73.8,126.6 L74.0,123.2 L74.2,123.1 L74.5,133.5 L74.7,126.6 L74.9,130.1 L75.2,129.2 L75.4,128.0 L75.6,128.1 L75.8,132.9 L76.1,129.7 L76.3,130.6 L76.5,131.7 L76.8,136.5 L77.0,135.0 L77.2,134.2 L77.4,130.9 L77.7,128.1 L77.9,137.5 L78.1,138.0 L78.4,134.0 L78.6,137.1 L78.8,138.4 L79.0,139.0 L79.3,139.8 L79.5,134.8 L79.7,142.9 L79.9,132.6 L80.2,141.2 L80.4,140.2 L80.6,142.0 L80.9,146.4 L81.1,145.2 L81.3,135.4 L81.5,133.7 L81.8,143.8 L82.0,137.1 L82.2,141.4 L82.5,145.0 L82.7,135.8 L82.9,134.3 L83.1,143.8 L83.4,143.3 L83.6,142.5 L83.8,143.9 L84.1,140.7 L84.3,138.5 L84.5,144.0 L84.7,141.1 L85.0,138.8 L85.2,147.4 L85.4,145.4 L85.7,147.5 L85.9,142.3 L86.1,143.9 L86.3,142.8 L86.6,143.5 L86.8,147.9 L87.0,144.3 L87.3,149.0 L87.5,149.1 L87.7,155.9 L87.9,142.8 L88.2,151.9 L88.4,148.3 L88.6,148.8 L88.8,143.4 L89.1,147.5 L89.3,152.3 L89.5,149.3 L89.8,150.1 L90.0,148.9 L90.2,154.6 L90.4,150.3 L90.7,142.0 L90.9,148.0 L91.1,143.2 L91.4,138.4 L91.6,149.1 L91.8,156.5 L92.0,151.6 L92.3,147.1 L92.5,148.1 L92.7,156.3 L93.0,152.6 L93.2,152.4 L93.4,152.1 L93.6,152.6 L93.9,155.7 L94.1,154.9 L94.3,153.7 L94.6,149.0 L94.8,155.1 L95.0,150.7 L95.2,157.7 L95.5,148.7 L95.7,153.3 L95.9,153.9 L96.2,149.0 L96.4,160.9 L96.6,160.1 L96.8,152.9 L97.1,157.8 L97.3,156.5 L97.5,145.2 L97.8,156.4 L98.0,155.4 L98.2,156.1 L98.4,151.9 L98.7,155.2 L98.9,155.7 L99.1,161.2 L99.3,158.1 L99.6,157.0 L99.8,163.0 L100.0,155.2 L100.3,156.0 L100.5,150.7 L100.7,163.9 L100.9,161.7 L101.2,161.6 L101.4,160.8 L101.6,158.8 L101.9,159.4 L102.1,157.7 L102.3,158.1 L102.5,159.2 L102.8,165.0 L103.0,161.4 L103.2,159.2 L103.5,157.3 L103.7,157.2 L103.9,165.9 L104.1,161.8 L104.4,160.2 L104.6,158.6 L104.8,155.7 L105.1,159.7 L105.3,163.3 L105.5,158.5 L105.7,159.1 L106.0,159.1 L106.2,160.3 L106.4,153.7 L106.7,158.9 L106.9,156.4 L107.1,163.0 L107.3,156.6 L107.6,161.7 L107.8,165.3 L108.0,158.1 L108.2,157.0 L108.5,159.9 L108.7,159.1 L108.9,155.2 L109.2,160.7 L109.4,166.6 L109.6,157.8 L109.8,157.9 L110.1,154.5 L110.3,159.6 L110.5,153.5 L110.8,153.9 L111.0,162.9 L111.2,154.4 L111.4,161.9 L111.7,163.4 L111.9,158.5 L112.1,159.4 L112.4,164.6 L112.6,156.3 L112.8,154.6 L113.0,151.5 L113.3,156.7 L113.5,162.0 L113.7,159.9 L114.0,152.4 L114.2,152.6 L114.4,153.8 L114.6,156.6 L114.9,154.5 L115.1,156.0 L115.3,156.1 L115.6,153.6 L115.8,154.4 L116.0,155.1 L116.2,153.8 L116.5,155.8 L116.7,160.8 L116.9,155.7 L117.2,153.5 L117.4,146.6 L117.6,154.3 L117.8,145.2 L118.1,147.0 L118.3,155.4 L118.5,154.6 L118.7,151.2 L119.0,145.0 L119.2,149.9 L119.4,148.5 L119.7,153.3 L119.9,159.3 L120.1,151.3 L120.3,147.3 L120.6,145.6 L120.8,149.6 L121.0,149.0 L121.3,145.1 L121.5,149.7 L121.7,144.7 L121.9,153.0 L122.2,152.6 L122.4,152.5 L122.6,146.4 L122.9,149.9 L123.1,147.3 L123.3,146.1 L123.5,146.1 L123.8,142.3 L124.0,141.6 L124.2,149.8 L124.5,145.9 L124.7,147.2 L124.9,150.0 L125.1,139.5 L125.4,142.9 L125.6,146.3 L125.8,147.0 L126.1,143.9 L126.3,149.0 L126.5,145.7 L126.7,140.2 L127.0,141.1 L127.2,147.4 L127.4,145.9 L127.7,137.0 L127.9,148.9 L128.1,145.9 L128.3,148.5 L128.6,141.9 L128.8,142.1 L129.0,138.8 L129.2,152.2 L129.5,142.0 L129.7,148.3 L129.9,139.8 L130.2,142.6 L130.4,135.7 L130.6,140.2 L130.8,145.1 L131.1,136.6 L131.3,145.0 L131.5,142.1 L131.8,136.8 L132.0,138.6 L132.2,138.6 L132.4,140.0 L132.7,138.1 L132.9,136.9 L133.1,138.7 L133.4,135.9 L133.6,134.9 L133.8,139.4 L134.0,142.7 L134.3,133.9 L134.5,139.4 L134.7,137.0 L135.0,135.8 L135.2,142.4 L135.4,137.4 L135.6,144.7 L135.9,136.4 L136.1,140.6 L136.3,138.4 L136.6,136.4 L136.8,141.3 L137.0,138.6 L137.2,141.3 L137.5,138.9 L137.7,135.1 L137.9,138.7 L138.1,139.2 L138.4,142.5 L138.6,135.8 L138.8,138.9 L139.1,132.8 L139.3,141.4 L139.5,135.1 L139.7,132.5 L140.0,138.8 L140.2,143.0 L140.4,133.5 L140.7,135.1 L140.9,136.3 L141.1,134.9 L141.3,140.4 L141.6,136.1 L141.8,136.4 L142.0,141.1 L142.3,136.3 L142.5,140.5 L142.7,135.5 L142.9,134.6 L143.2,132.3 L143.4,145.4 L143.6,137.4 L143.9,139.0 L144.1,137.4 L144.3,137.2 L144.5,135.5 L144.8,140.6 L145.0,128.3 L145.2,124.6 L145.5,124.8 L145.7,122.4 L145.9,129.2 L146.1,129.7 L146.4,124.3 L146.6,124.4 L146.8,130.1 L147.1,138.4 L147.3,125.5 L147.5,139.0 L147.7,134.8 L148.0,143.3 L148.2,136.7 L148.4,140.3 L148.6,136.7 L148.9,139.4 L149.1,148.4 L149.3,147.2 L149.6,143.5 L149.8,142.5 L150.0,139.4 L150.2,145.1 L150.5,146.7 L150.7,146.9 L150.9,147.2 L151.2,144.0 L151.4,148.0 L151.6,148.4 L151.8,153.4 L152.1,155.7 L152.3,149.0 L152.5,147.1 L152.8,149.8 L153.0,148.2 L153.2,148.0 L153.4,150.6 L153.7,147.5 L153.9,153.5 L154.1,151.3 L154.4,152.8 L154.6,151.5 L154.8,149.9 L155.0,149.5 L155.3,152.2 L155.5,151.4 L155.7,154.4 L156.0,153.9 L156.2,149.6 L156.4,154.8 L156.6,150.4 L156.9,153.2 L157.1,154.7 L157.3,149.0 L157.5,156.8 L157.8,157.5 L158.0,156.8 L158.2,156.3 L158.5,156.9 L158.7,155.3 L158.9,158.1 L159.1,157.5 L159.4,160.1 L159.6,156.1 L159.8,161.4 L160.1,161.4 L160.3,160.8 L160.5,160.1 L160.7,163.7 L161.0,156.5 L161.2,163.9 L161.4,163.4 L161.7,163.7 L161.9,164.2 L162.1,160.9 L162.3,162.3 L162.6,165.4 L162.8,164.8 L163.0,164.2 L163.3,158.5 L163.5,165.5 L163.7,167.7 L163.9,167.2 L164.2,164.7 L164.4,158.8 L164.6,167.2 L164.9,163.7 L165.1,155.7 L165.3,165.6 L165.5,159.4 L165.8,160.1 L166.0,162.4 L166.2,168.8 L166.5,163.4 L166.7,165.6 L166.9,170.5 L167.1,170.1 L167.4,164.5 L167.6,164.1 L167.8,160.7 L168.0,162.7 L168.3,166.4 L168.5,166.4 L168.7,165.5 L169.0,168.5 L169.2,162.7 L169.4,165.1 L169.6,167.8 L169.9,167.4 L170.1,169.1 L170.3,166.9 L170.6,164.7 L170.8,166.9 L171.0,162.5 L171.2,160.5 L171.5,167.9 L171.7,165.9 L171.9,167.1 L172.2,160.6 L172.4,165.1 L172.6,164.4 L172.8,163.6 L173.1,159.1 L173.3,165.5 L173.5,169.6 L173.8,167.9 L174.0,164.8 L174.2,166.8 L174.4,169.4 L174.7,158.0 L174.9,166.7 L175.1,168.9 L175.4,169.4 L175.6,172.8 L175.8,171.0 L176.0,168.4 L176.3,168.5 L176.5,170.1 L176.7,165.9 L177.0,167.6 L177.2,170.7 L177.4,174.1 L177.6,167.4 L177.9,167.8 L178.1,168.7 L178.3,172.4 L178.5,168.0 L178.8,172.9 L179.0,165.2 L179.2,167.7 L179.5,167.7 L179.7,170.9 L179.9,171.8 L180.1,163.7 L180.4,165.7 L180.6,169.7 L180.8,166.6 L181.1,163.9 L181.3,172.1 L181.5,170.4 L181.7,170.5 L182.0,167.5 L182.2,172.3 L182.4,168.3 L182.7,172.6 L182.9,166.3 L183.1,166.6 L183.3,170.0 L183.6,167.2 L183.8,171.6 L184.0,170.3 L184.3,166.6 L184.5,169.8 L184.7,168.5 L184.9,172.6 L185.2,167.7 L185.4,168.4 L185.6,173.6 L185.9,176.9 L186.1,176.1 L186.3,170.1 L186.5,170.6 L186.8,174.7 L187.0,169.6 L187.2,166.9 L187.4,170.4 L187.7,171.4 L187.9,167.4 L188.1,164.9 L188.4,165.5 L188.6,172.0 L188.8,167.5 L189.0,169.4 L189.3,170.4 L189.5,171.6 L189.7,168.5 L190.0,171.0 L190.2,166.5 L190.4,168.0 L190.6,165.9 L190.9,172.4 L191.1,168.6 L191.3,166.3 L191.6,167.3 L191.8,167.6 L192.0,170.3 L192.2,163.1 L192.5,164.6 L192.7,166.5 L192.9,175.3 L193.2,170.3 L193.4,166.9 L193.6,169.3 L193.8,173.2 L194.1,166.0 L194.3,165.4 L194.5,170.0 L194.8,167.7 L195.0,168.0 L195.2,164.3 L195.4,171.6 L195.7,170.8 L195.9,167.2 L196.1,167.6 L196.4,159.3 L196.6,167.3 L196.8,164.8 L197.0,166.6 L197.3,167.4 L197.5,164.2 L197.7,160.1 L197.9,166.3 L198.2,162.9 L198.4,164.2 L198.6,163.3 L198.9,164.1 L199.1,158.1 L199.3,168.7 L199.5,165.8 L199.8,168.4 L200.0,170.9 L200.2,165.0 L200.5,159.5 L200.7,162.2 L200.9,161.3 L201.1,163.3 L201.4,165.0 L201.6,158.8 L201.8,165.7 L202.1,160.2 L202.3,165.5 L202.5,164.3 L202.7,163.6 L203.0,164.3 L203.2,162.9 L203.4,162.7 L203.7,159.5 L203.9,164.4 L204.1,170.0 L204.3,170.4 L204.6,168.5 L204.8,166.8 L205.0,162.8 L205.3,169.2 L205.5,164.9 L205.7,165.1 L205.9,164.6 L206.2,165.9 L206.4,164.7 L206.6,166.0 L206.8,163.5 L207.1,166.0 L207.3,174.3 L207.5,167.9 L207.8,167.8 L208.0,170.5 L208.2,171.5 L208.4,166.6 L208.7,169.8 L208.9,173.5 L209.1,172.1 L209.4,172.2 L209.6,176.8 L209.8,170.7 L210.0,173.3 L210.3,171.9 L210.5,178.1 L210.7,168.4 L211.0,172.5 L211.2,173.2 L211.4,177.0 L211.6,177.1 L211.9,179.7 L212.1,171.4 L212.3,178.4 L212.6,175.7 L212.8,174.9 L213.0,178.6 L213.2,174.7 L213.5,171.6 L213.7,176.8 L213.9,173.8 L214.2,176.5 L214.4,179.7 L214.6,179.8 L214.8,183.7 L215.1,178.8 L215.3,175.2 L215.5,177.7 L215.8,177.5 L216.0,176.9 L216.2,181.9 L216.4,179.1 L216.7,175.6 L216.9,183.5 L217.1,181.5 L217.3,183.1 L217.6,182.7 L217.8,184.5 L218.0,183.2 L218.3,186.9 L218.5,184.9 L218.7,185.2 L218.9,185.6 L219.2,180.6 L219.4,184.6 L219.6,184.7 L219.9,186.4 L220.1,182.3 L220.3,191.2 L220.5,187.2 L220.8,183.9 L221.0,182.8 L221.2,187.3 L221.5,188.2 L221.7,186.8 L221.9,189.5 L222.1,187.8 L222.4,191.5 L222.6,188.3 L222.8,190.6 L223.1,193.9 L223.3,198.8 L223.5,189.1 L223.7,191.0 L224.0,190.3 L224.2,195.3 L224.4,190.2 L224.7,192.5 L224.9,194.1 L225.1,191.8 L225.3,192.3 L225.6,194.0 L225.8,189.8 L226.0,192.0 L226.2,195.2 L226.5,197.2 L226.7,196.6 L226.9,192.5 L227.2,196.5 L227.4,200.4 L227.6,200.1 L227.8,198.6 L228.1,196.8 L228.3,201.3 L228.5,198.3 L228.8,197.0 L229.0,198.4 L229.2,205.0 L229.4,201.9 L229.7,204.9 L229.9,200.7 L230.1,204.9 L230.4,201.0 L230.6,202.6 L230.8,210.2 L231.0,205.8 L231.3,202.7 L231.5,204.2 L231.7,205.6 L232.0,208.4 L232.2,204.1 L232.4,201.0 L232.6,205.3 L232.9,206.4 L233.1,207.0 L233.3,210.6 L233.6,208.2 L233.8,209.9 L234.0,205.0 L234.2,210.7 L234.5,214.4 L234.7,211.1 L234.9,210.0 L235.2,210.0 L235.4,214.8 L235.6,207.7 L235.8,210.3 L236.1,212.1 L236.3,213.2 L236.5,210.3 L236.7,212.7 L237.0,211.4 L237.2,212.8 L237.4,212.4 L237.7,210.0 L237.9,213.3 L238.1,216.0 L238.3,211.3 L238.6,213.6 L238.8,216.3 L239.0,211.9 L239.3,215.6 L239.5,212.5 L239.7,218.7 L239.9,222.1 L240.2,221.6 L240.4,215.9 L240.6,218.7 L240.9,217.3 L241.1,217.5 L241.3,221.7 L241.5,214.3 L241.8,220.9 L242.0,218.2 L242.2,222.3 L242.5,219.3 L242.7,217.3 L242.9,220.1 L243.1,221.6 L243.4,220.0 L243.6,221.4 L243.8,219.0 L244.1,215.0 L244.3,223.3 L244.5,223.0 L244.7,221.8 L245.0,221.8 L245.2,224.6 L245.4,220.9 L245.7,220.5 L245.9,222.1 L246.1,225.9 L246.3,219.4 L246.6,226.4 L246.8,221.8 L247.0,220.8 L247.2,227.2 L247.5,223.9 L247.7,221.0 L247.9,223.7 L248.2,227.3 L248.4,228.2 L248.6,224.1 L248.8,226.5 L249.1,227.5 L249.3,224.2 L249.5,227.0 L249.8,226.2 L250.0,225.1 L250.2,225.4 L250.4,227.1 L250.7,227.2 L250.9,225.8 L251.1,226.4 L251.4,230.5 L251.6,228.4 L251.8,230.3 L252.0,231.3 L252.3,229.9 L252.5,234.4 L252.7,226.6 L253.0,231.0 L253.2,228.2 L253.4,234.0 L253.6,233.8 L253.9,224.5 L254.1,227.2 L254.3,231.6 L254.6,232.1 L254.8,232.1 L255.0,230.2 L255.2,231.7 L255.5,232.4 L255.7,230.7 L255.9,233.7 L256.1,225.4 L256.4,233.0 L256.6,228.9 L256.8,234.1 L257.1,231.3 L257.3,229.7 L257.5,233.1 L257.7,230.0 L258.0,230.2 L258.2,228.7 L258.4,232.8 L258.7,234.2 L258.9,235.7 L259.1,233.0 L259.3,236.1 L259.6,233.7 L259.8,233.6 L260.0,235.5 L260.3,236.9 L260.5,233.5 L260.7,233.9 L260.9,234.3 L261.2,235.1 L261.4,232.9 L261.6,237.9 L261.9,234.5 L262.1,236.8 L262.3,233.8 L262.5,237.0 L262.8,237.2 L263.0,235.4 L263.2,241.7 L263.5,237.8 L263.7,241.5 L263.9,239.6 L264.1,235.8 L264.4,236.7 L264.6,238.9 L264.8,238.2 L265.1,238.3 L265.3,237.7 L265.5,234.1 L265.7,238.2 L266.0,233.5 L266.2,240.1 L266.4,237.5 L266.6,237.8 L266.9,239.2 L267.1,240.6 L267.3,236.5 L267.6,235.9 L267.8,237.8 L268.0,235.6 L268.2,238.4 L268.5,244.8 L268.7,238.5 L268.9,242.9 L269.2,238.1 L269.4,242.3 L269.6,241.0 L269.8,241.8 L270.1,243.4 L270.3,246.5 L270.5,242.8 L270.8,242.8 L271.0,240.3 L271.2,244.2 L271.4,242.3 L271.7,245.1 L271.9,243.1 L272.1,247.5 L272.4,238.7 L272.6,242.9 L272.8,245.9 L273.0,243.0 L273.3,242.1 L273.5,243.5 L273.7,240.9 L274.0,244.7 L274.2,250.4 L274.4,247.4 L274.6,242.1 L274.9,242.8 L275.1,244.0 L275.3,247.5 L275.5,243.3 L275.8,243.7 L276.0,247.6 L276.2,247.7 L276.5,244.8 L276.7,243.2 L276.9,242.3 L277.1,244.4 L277.4,240.9 L277.6,248.1 L277.8,244.9 L278.1,247.7 L278.3,251.1 L278.5,249.5 L278.7,244.1 L279.0,249.0 L279.2,249.8 L279.4,245.5 L279.7,245.1 L279.9,247.2 L280.1,243.8 L280.3,251.1 L280.6,242.1 L280.8,245.3 L281.0,247.4 L281.3,247.6 L281.5,248.6 L281.7,249.0 L281.9,248.0 L282.2,251.2 L282.4,243.7 L282.6,248.8 L282.9,247.3 L283.1,249.3 L283.3,249.7 L283.5,247.1 L283.8,247.9 L284.0,251.3 L284.2,250.4 L284.5,248.1 L284.7,254.6 L284.9,255.3 L285.1,246.6 L285.4,250.8 L285.6,256.1 L285.8,252.2 L286.0,251.0 L286.3,250.1 L286.5,249.4 L286.7,250.3 L287.0,249.6 L287.2,252.7 L287.4,250.1 L287.6,250.1 L287.9,248.5 L288.1,251.2 L288.3,249.4 L288.6,251.1 L288.8,254.0 L289.0,252.5 L289.2,252.9 L289.5,252.6 L289.7,252.0 L289.9,251.7 L290.2,251.3 L290.4,253.9 L290.6,249.7 L290.8,255.3 L291.1,252.4 L291.3,250.7 L291.5,251.4 L291.8,251.0 L292.0,253.0 L292.2,251.0 L292.4,255.3 L292.7,251.0 L292.9,247.7 L293.1,251.3 L293.4,248.5 L293.6,253.0 L293.8,255.5 L294.0,254.6 L294.3,250.2 L294.5,251.6 L294.7,257.3 L295.0,254.1 L295.2,253.5 L295.4,255.9 L295.6,259.1 L295.9,256.5 L296.1,254.0 L296.3,254.5 L296.5,255.2 L296.8,252.5 L297.0,251.5 L297.2,254.1 L297.5,251.9 L297.7,253.9 L297.9,254.3 L298.1,259.3 L298.4,252.3 L298.6,254.0 L298.8,253.9 L299.1,255.3 L299.3,256.7 L299.5,253.3 L299.7,252.6 L300.0,250.9 L300.2,252.5 L300.4,255.8 L300.7,254.7 L300.9,252.4 L301.1,253.9 L301.3,254.8 L301.6,255.9 L301.8,253.5 L302.0,254.3 L302.3,250.9 L302.5,252.4 L302.7,258.5 L302.9,250.3 L303.2,254.3 L303.4,255.6 L303.6,254.3 L303.9,253.4 L304.1,255.1 L304.3,255.3 L304.5,255.1 L304.8,251.3 L305.0,255.1 L305.2,253.6 L305.4,254.3 L305.7,256.0 L305.9,256.9 L306.1,257.5 L306.4,254.5 L306.6,257.6 L306.8,258.2 L307.0,258.1 L307.3,258.7 L307.5,255.4 L307.7,255.4 L308.0,257.6 L308.2,252.9 L308.4,256.3 L308.6,254.7 L308.9,255.1 L309.1,252.2 L309.3,254.0 L309.6,255.9 L309.8,257.9 L310.0,258.1 L310.2,255.8 L310.5,255.6 L310.7,254.3 L310.9,256.9 L311.2,255.6 L311.4,257.4 L311.6,259.9 L311.8,256.1 L312.1,253.0 L312.3,254.3 L312.5,253.1 L312.8,253.6 L313.0,259.0 L313.2,256.7 L313.4,253.0 L313.7,257.7 L313.9,259.0 L314.1,255.5 L314.4,254.9 L314.6,255.6 L314.8,256.9 L315.0,257.7 L315.3,258.9 L315.5,258.9 L315.7,258.9 L315.9,259.3 L316.2,257.8 L316.4,253.2 L316.6,256.1 L316.9,257.1 L317.1,255.6 L317.3,258.4 L317.5,255.7 L317.8,254.5 L318.0,259.5 L318.2,257.9 L318.5,256.9 L318.7,258.4 L318.9,258.7 L319.1,257.2 L319.4,251.3 L319.6,255.1 L319.8,255.5 L320.1,254.4 L320.3,256.9 L320.5,259.0 L320.7,255.5 L321.0,254.1 L321.2,260.7 L321.4,255.6 L321.7,253.9 L321.9,257.0 L322.1,257.4 L322.3,255.0 L322.6,258.1 L322.8,255.5 L323.0,254.6 L323.3,256.9 L323.5,258.1 L323.7,255.2 L323.9,257.2 L324.2,256.3 L324.4,262.4 L324.6,255.0 L324.8,259.4 L325.1,256.4 L325.3,256.2 L325.5,258.0 L325.8,258.3 L326.0,259.1 L326.2,257.2 L326.4,255.3 L326.7,255.4 L326.9,257.5 L327.1,257.7 L327.4,259.4 L327.6,257.4 L327.8,258.7 L328.0,259.6 L328.3,256.8 L328.5,253.5 L328.7,254.1 L329.0,253.6 L329.2,259.8 L329.4,254.8 L329.6,259.0 L329.9,257.7 L330.1,260.0 L330.3,258.5 L330.6,256.3 L330.8,256.1 L331.0,256.7 L331.2,256.8 L331.5,255.4 L331.7,256.4 L331.9,259.7 L332.2,253.0 L332.4,257.0 L332.6,254.6 L332.8,256.8 L333.1,258.1 L333.3,256.3 L333.5,257.9 L333.8,253.1 L334.0,258.6 L334.2,255.1 L334.4,257.5 L334.7,256.6 L334.9,251.0 L335.1,254.7 L335.3,256.7 L335.6,259.3 L335.8,256.8 L336.0,256.7 L336.3,253.3 L336.5,259.0 L336.7,259.8 L336.9,256.2 L337.2,255.7 L337.4,252.8 L337.6,257.8 L337.9,261.5 L338.1,257.5 L338.3,258.6 L338.5,257.1 L338.8,254.1 L339.0,258.7 L339.2,253.5 L339.5,255.6 L339.7,256.6 L339.9,257.8 L340.1,256.8 L340.4,256.8 L340.6,254.5 L340.8,253.5 L341.1,256.2 L341.3,254.7 L341.5,253.5 L341.7,253.7 L342.0,255.2 L342.2,252.6 L342.4,253.7 L342.7,253.1 L342.9,256.8 L343.1,257.3 L343.3,260.5 L343.6,253.7 L343.8,255.4 L344.0,258.6 L344.3,256.5 L344.5,256.3 L344.7,260.4 L344.9,256.5 L345.2,254.9 L345.4,254.7 L345.6,258.1 L345.8,258.1 L346.1,254.9 L346.3,255.7 L346.5,258.8 L346.8,259.0 L347.0,256.7 L347.2,259.3 L347.4,259.2 L347.7,254.7 L347.9,257.7 L348.1,259.2 L348.4,257.4 L348.6,254.4 L348.8,258.1 L349.0,260.2 L349.3,261.9 L349.5,254.6 L349.7,264.0 L350.0,256.8 L350.2,260.9 L350.4,261.5 L350.6,261.1 L350.9,259.5 L351.1,257.0 L351.3,260.6 L351.6,258.0 L351.8,254.6 L352.0,265.0 L352.2,260.9 L352.5,263.1 L352.7,257.9 L352.9,262.6 L353.2,262.9 L353.4,262.8 L353.6,259.9 L353.8,257.6 L354.1,259.7 L354.3,255.8 L354.5,256.9 L354.7,260.3 L355.0,258.3 L355.2,260.0 L355.4,260.1 L355.7,264.1 L355.9,262.9 L356.1,260.4 L356.3,262.9 L356.6,259.1 L356.8,260.0 L357.0,262.4 L357.3,258.4 L357.5,260.3 L357.7,258.4 L357.9,261.2 L358.2,264.1 L358.4,259.6 L358.6,261.5 L358.9,259.5 L359.1,259.1 L359.3,259.0 L359.5,264.1 L359.8,265.9 L360.0,262.4 L360.2,260.2 L360.5,263.0 L360.7,261.1 L360.9,263.3 L361.1,262.4 L361.4,262.4 L361.6,263.1 L361.8,261.0 L362.1,261.4 L362.3,259.0 L362.5,261.5 L362.7,259.7 L363.0,262.2 L363.2,260.7 L363.4,262.8 L363.7,263.5 L363.9,260.1 L364.1,261.3 L364.3,261.2 L364.6,264.4 L364.8,266.3 L365.0,264.8 L365.2,262.6 L365.5,266.1 L365.7,260.6 L365.9,266.3 L366.2,262.4 L366.4,258.5 L366.6,268.7 L366.8,266.8 L367.1,262.0 L367.3,264.3 L367.5,263.7 L367.8,264.4 L368.0,261.5 L368.2,263.1 L368.4,265.3 L368.7,264.9 L368.9,266.8 L369.1,264.8 L369.4,269.1 L369.6,263.5 L369.8,265.4 L370.0,261.5 L370.3,262.8 L370.5,267.6 L370.7,263.5 L371.0,266.3 L371.2,265.3 L371.4,263.6 L371.6,264.9 L371.9,264.7 L372.1,264.9 L372.3,267.2 L372.6,267.1 L372.8,264.9 L373.0,264.4 L373.2,266.7 L373.5,266.1 L373.7,268.2 L373.9,271.2 L374.1,268.0 L374.4,266.5 L374.6,266.3 L374.8,265.2 L375.1,265.2 L375.3,265.1 L375.5,266.3 L375.7,266.3 L376.0,268.5 L376.2,266.5 L376.4,266.9 L376.7,265.2 L376.9,270.4 L377.1,268.4 L377.3,270.8 L377.6,269.1 L377.8,270.4 L378.0,267.4 L378.3,269.2 L378.5,272.8 L378.7,265.9 L378.9,270.3 L379.2,271.3 L379.4,269.1 L379.6,269.7 L379.9,270.7 L380.1,267.3 L380.3,269.3 L380.5,267.1 L380.8,267.5 L381.0,267.7 L381.2,268.6 L381.5,269.2 L381.7,269.9 L381.9,266.5 L382.1,272.8 L382.4,271.3 L382.6,270.6 L382.8,268.7 L383.1,269.3 L383.3,270.5 L383.5,270.3 L383.7,266.6 L384.0,271.1 L384.2,275.1 L384.4,266.5 L384.6,271.7 L384.9,270.7 L385.1,269.9 L385.3,272.6 L385.6,268.1 L385.8,270.6 L386.0,273.0 L386.2,270.0 L386.5,269.7 L386.7,270.7 L386.9,269.8 L387.2,273.4 L387.4,269.1 L387.6,272.4 L387.8,268.6 L388.1,272.1 L388.3,270.8 L388.5,266.4 L388.8,271.1 L389.0,269.3 L389.2,270.5 L389.4,274.1 L389.7,269.4 L389.9,269.6 L390.1,274.1 L390.4,271.8 L390.6,274.4 L390.8,272.3 L391.0,270.2 L391.3,271.8 L391.5,274.1 L391.7,273.7 L392.0,272.1 L392.2,272.2 L392.4,272.0 L392.6,271.3 L392.9,275.8 L393.1,272.4 L393.3,270.5 L393.5,271.7 L393.8,273.9 L394.0,273.8 L394.2,272.5 L394.5,271.7 L394.7,272.9 L394.9,270.0 L395.1,270.8 L395.4,274.5 L395.6,272.3 L395.8,273.9 L396.1,275.4 L396.3,274.5 L396.5,273.5 L396.7,277.2 L397.0,274.8 L397.2,273.0 L397.4,275.0 L397.7,274.5 L397.9,272.4 L398.1,274.1 L398.3,273.7 L398.6,270.7 L398.8,273.8 L399.0,273.7 L399.3,273.5 L399.5,271.5 L399.7,273.8 L399.9,274.4 L400.2,274.7 L400.4,272.7 L400.6,275.8 L400.9,272.7 L401.1,274.4 L401.3,277.2 L401.5,273.8 L401.8,274.2 L402.0,277.0 L402.2,274.5 L402.5,274.8 L402.7,275.7 L402.9,277.2 L403.1,271.7 L403.4,274.2 L403.6,273.9 L403.8,273.9 L404.0,274.3 L404.3,274.4 L404.5,276.5 L404.7,274.5 L405.0,276.3 L405.2,276.9 L405.4,275.0 L405.6,276.6 L405.9,279.2 L406.1,277.0 L406.3,275.5 L406.6,276.5 L406.8,275.1 L407.0,277.2 L407.2,278.3 L407.5,275.5 L407.7,276.6 L407.9,278.9 L408.2,276.2 L408.4,277.4 L408.6,275.4 L408.8,275.9 L409.1,276.4 L409.3,281.0 L409.5,276.7 L409.8,276.6 L410.0,276.6 L410.2,277.3 L410.4,278.7 L410.7,277.9 L410.9,281.1 L411.1,278.1 L411.4,280.1 L411.6,278.2 L411.8,278.8 L412.0,275.5 L412.3,277.7 L412.5,277.8 L412.7,277.6 L413.0,274.4 L413.2,279.5 L413.4,277.4 L413.6,277.4 L413.9,277.7 L414.1,277.8 L414.3,278.9 L414.5,276.1 L414.8,276.7 L415.0,278.8 L415.2,278.6 L415.5,277.7 L415.7,277.4 L415.9,277.0 L416.1,278.3 L416.4,280.4 L416.6,276.8 L416.8,281.0 L417.1,279.9 L417.3,277.8 L417.5,279.9 L417.7,276.2 L418.0,275.8 L418.2,276.6 L418.4,278.1 L418.7,278.3 L418.9,278.0 L419.1,279.0 L419.3,275.4 L419.6,279.7 L419.8,276.6 L420.0,277.9 L420.3,278.4 L420.5,277.2 L420.7,276.9 L420.9,277.5 L421.2,279.2 L421.4,280.2 L421.6,280.2 L421.9,277.7 L422.1,278.1 L422.3,277.9 L422.5,280.2 L422.8,276.2 L423.0,281.6 L423.2,278.9 L423.4,278.4 L423.7,280.3 L423.9,281.5 L424.1,280.4 L424.4,281.6 L424.6,280.2 L424.8,282.0 L425.0,282.1 L425.3,279.9 L425.5,282.5 L425.7,280.5 L426.0,280.4 L426.2,278.8 L426.4,279.9 L426.6,281.7 L426.9,278.3 L427.1,281.6 L427.3,281.1 L427.6,281.0 L427.8,277.1 L428.0,280.5 L428.2,281.8 L428.5,279.5 L428.7,280.9 L428.9,277.0 L429.2,282.0 L429.4,279.8 L429.6,282.4 L429.8,278.0 L430.1,282.1 L430.3,280.7 L430.5,282.4 L430.8,279.6 L431.0,280.1 L431.2,284.8 L431.4,279.8 L431.7,280.1 L431.9,280.8 L432.1,279.6 L432.4,283.2 L432.6,284.1 L432.8,280.2 L433.0,278.5 L433.3,283.2 L433.5,283.2 L433.7,282.7 L433.9,283.3 L434.2,280.0 L434.4,281.2 L434.6,279.2 L434.9,279.2 L435.1,283.1 L435.3,280.4 L435.5,285.2 L435.8,281.7 L436.0,280.5 L436.2,282.9 L436.5,284.5 L436.7,282.4 L436.9,279.7 L437.1,282.3 L437.4,283.9 L437.6,280.9 L437.8,280.5 L438.1,283.4 L438.3,282.0 L438.5,280.0 L438.7,281.2 L439.0,280.7 L439.2,282.4 L439.4,282.1 L439.7,283.8 L439.9,283.1 L440.1,279.5 L440.3,282.7 L440.6,283.5 L440.8,282.9 L441.0,283.8 L441.3,281.3 L441.5,280.7 L441.7,283.8 L441.9,280.7 L442.2,279.0 L442.4,284.1 L442.6,281.4 L442.8,282.1 L443.1,280.4 L443.3,280.6 L443.5,280.9 L443.8,282.2 L444.0,283.5 L444.2,279.3 L444.4,284.2 L444.7,281.2 L444.9,281.4 L445.1,284.3 L445.4,283.1 L445.6,280.9 L445.8,286.3 L446.0,282.1 L446.3,283.9 L446.5,283.9 L446.7,285.9 L447.0,283.0 L447.2,285.4 L447.4,282.7 L447.6,285.7 L447.9,282.8 L448.1,283.5 L448.3,287.1 L448.6,284.7 L448.8,284.4 L449.0,287.8 L449.2,284.9 L449.5,283.1 L449.7,285.6 L449.9,282.6 L450.2,286.3 L450.4,286.5 L450.6,283.7 L450.8,283.7 L451.1,285.0 L451.3,284.8 L451.5,283.3 L451.8,285.8 L452.0,281.7 L452.2,284.3 L452.4,284.4 L452.7,284.7 L452.9,285.6 L453.1,283.2 L453.3,286.1 L453.6,285.0 L453.8,284.3 L454.0,283.2 L454.3,283.6 L454.5,286.0 L454.7,284.0 L454.9,285.7 L455.2,287.3 L455.4,287.3 L455.6,288.1 L455.9,285.3 L456.1,284.1 L456.3,287.4 L456.5,286.4 L456.8,287.7 L457.0,286.0 L457.2,287.9 L457.5,287.4 L457.7,287.2 L457.9,286.9 L458.1,286.8 L458.4,286.6 L458.6,286.6 L458.8,287.8 L459.1,285.5 L459.3,289.1 L459.5,286.2 L459.7,288.0 L460.0,286.4 L460.2,286.1 L460.4,289.7 L460.7,286.1 L460.9,284.7 L461.1,285.6 L461.3,286.2 L461.6,290.1 L461.8,287.1 L462.0,288.3 L462.3,285.3 L462.5,287.4 L462.7,288.0 L462.9,289.8 L463.2,285.9 L463.4,288.0 L463.6,287.5 L463.8,285.5 L464.1,287.1 L464.3,286.7 L464.5,283.6 L464.8,288.1 L465.0,288.1 L465.2,286.6 L465.4,285.2 L465.7,289.6 L465.9,287.8 L466.1,289.0 L466.4,289.6 L466.6,286.7 L466.8,288.8 L467.0,287.2 L467.3,287.5 L467.5,287.5 L467.7,287.6 L468.0,289.4 L468.2,287.9 L468.4,287.5 L468.6,287.4 L468.9,288.3 L469.1,286.5 L469.3,287.1 L469.6,287.8 L469.8,287.1 L470.0,287.8 L470.2,287.1 L470.5,291.2 L470.7,290.2 L470.9,288.9 L471.2,288.1 L471.4,291.6 L471.6,288.8 L471.8,288.2 L472.1,288.9 L472.3,288.9 L472.5,290.7 L472.7,288.5 L473.0,291.8 L473.2,287.3 L473.4,289.8 L473.7,287.2 L473.9,291.6 L474.1,288.3 L474.3,288.8 L474.6,290.4 L474.8,290.9 L475.0,287.4 L475.3,288.6 L475.5,287.0 L475.7,289.4 L475.9,289.1 L476.2,288.8 L476.4,288.3 L476.6,288.8 L476.9,288.3 L477.1,290.3 L477.3,291.8 L477.5,286.7 L477.8,289.5 L478.0,289.0 L478.2,290.5 L478.5,288.3 L478.7,289.6 L478.9,288.3 L479.1,290.9 L479.4,290.1 L479.6,289.7 L479.8,290.5 L480.1,289.6 L480.3,287.7 L480.5,291.0 L480.7,290.5 L481.0,289.9 L481.2,291.6 L481.4,292.0 L481.7,288.6 L481.9,289.0 L482.1,292.6 L482.3,292.4 L482.6,289.2 L482.8,288.5 L483.0,289.4 L483.2,289.6 L483.5,288.0 L483.7,290.5 L483.9,288.5 L484.2,288.6 L484.4,291.9 L484.6,289.5 L484.8,290.4 L485.1,291.5 L485.3,291.8 L485.5,290.1 L485.8,290.7 L486.0,289.4 L486.2,293.3 L486.4,291.6 L486.7,289.0 L486.9,290.7 L487.1,291.8 L487.4,291.5 L487.6,293.5 L487.8,292.9 L488.0,290.0 L488.3,290.7 L488.5,288.9 L488.7,291.3 L489.0,291.1 L489.2,295.0 L489.4,291.1 L489.6,287.8 L489.9,290.0 L490.1,291.2 L490.3,289.2 L490.6,289.8 L490.8,290.5 L491.0,291.6 L491.2,290.9 L491.5,289.8 L491.7,292.3 L491.9,290.4 L492.1,290.5 L492.4,289.2 L492.6,290.1 L492.8,292.3 L493.1,288.9 L493.3,291.2 L493.5,292.4 L493.7,290.8 L494.0,291.8 L494.2,289.8 L494.4,293.4 L494.7,293.1 L494.9,291.8 L495.1,288.9 L495.3,290.0 L495.6,293.0 L495.8,294.1 L496.0,292.0 L496.3,293.5 L496.5,290.7 L496.7,291.4 L496.9,291.7 L497.2,292.3 L497.4,289.5 L497.6,293.2 L497.9,293.7 L498.1,290.1 L498.3,289.8 L498.5,292.4 L498.8,290.9 L499.0,288.4 L499.2,293.1 L499.5,292.2 L499.7,291.3 L499.9,295.1 L500.1,292.2 L500.4,290.9 L500.6,292.2 L500.8,290.6 L501.1,291.0 L501.3,292.7 L501.5,291.3 L501.7,291.5 L502.0,294.6 L502.2,293.5 L502.4,293.4 L502.6,293.0 L502.9,293.0 L503.1,294.4 L503.3,292.3 L503.6,295.1 L503.8,291.0 L504.0,292.0 L504.2,290.4 L504.5,291.9 L504.7,293.2 L504.9,294.6 L505.2,291.5 L505.4,292.5 L505.6,292.0 L505.8,291.5 L506.1,290.9 L506.3,292.7 L506.5,290.1 L506.8,292.8 L507.0,292.7 L507.2,291.8 L507.4,291.3 L507.7,290.7 L507.9,295.5 L508.1,290.9 L508.4,295.1 L508.6,293.7 L508.8,292.4 L509.0,291.2 L509.3,294.4 L509.5,295.5 L509.7,291.6 L510.0,292.6 L510.2,294.5 L510.4,293.5 L510.6,296.0 L510.9,292.3 L511.1,293.9 L511.3,291.3 L511.6,296.2 L511.8,292.1 L512.0,290.0 L512.2,293.0 L512.5,293.0 L512.7,296.0 L512.9,292.8 L513.1,293.3 L513.4,294.2 L513.6,295.7 L513.8,293.3 L514.1,294.9 L514.3,294.2 L514.5,293.0 L514.7,293.6 L515.0,293.5 L515.2,292.2 L515.4,295.3 L515.7,291.6 L515.9,295.3 L516.1,295.0 L516.3,293.5 L516.6,292.6 L516.8,293.4 L517.0,294.4 L517.3,294.8 L517.5,294.2 L517.7,295.2 L517.9,293.0 L518.2,294.2 L518.4,291.6 L518.6,295.0 L518.9,294.1 L519.1,293.3 L519.3,295.6 L519.5,294.9 L519.8,289.9 L520.0,294.1 L520.2,291.9 L520.5,295.6 L520.7,297.6 L520.9,293.3 L521.1,294.2 L521.4,293.8 L521.6,294.7 L521.8,295.1 L522.0,296.0 L522.3,292.8 L522.5,296.5 L522.7,292.9 L523.0,294.7 L523.2,296.0 L523.4,295.3 L523.6,293.0 L523.9,293.4 L524.1,293.7 L524.3,294.3 L524.6,296.1 L524.8,292.6 L525.0,295.1 L525.2,295.4 L525.5,295.3 L525.7,295.2 L525.9,296.7 L526.2,295.3 L526.4,295.8 L526.6,295.4 L526.8,297.2 L527.1,292.0 L527.3,296.5 L527.5,294.4 L527.8,294.4 L528.0,293.4 L528.2,292.2 L528.4,294.3 L528.7,293.9 L528.9,295.6 L529.1,292.8 L529.4,296.9 L529.6,295.3 L529.8,294.6 L530.0,294.0 L530.3,293.9 L530.5,293.5 L530.7,294.3 L531.0,295.1 L531.2,294.9 L531.4,293.2 L531.6,294.8 L531.9,294.0 L532.1,295.5 L532.3,297.9 L532.5,296.2 L532.8,294.9 L533.0,293.1 L533.2,293.4 L533.5,293.1 L533.7,296.5 L533.9,294.5 L534.1,295.6 L534.4,294.7 L534.6,295.8 L534.8,297.6 L535.1,294.7 L535.3,295.3 L535.5,294.6 L535.7,297.0 L536.0,294.4 L536.2,294.3" stroke="#058505" stroke-width="2.1"/>
</g>
<g stroke="#111" stroke-width="1.7" stroke-dasharray="9.7 8.95" fill="none">
<line x1="145.6" y1="13.6" x2="145.6" y2="377"/>
<line x1="204.1" y1="13.6" x2="204.1" y2="377"/>
</g>
<g stroke="#000" stroke-width="1.8" fill="none">
<rect x="34.1" y="7.4" width="502.2" height="370.1"/>
</g>
<g stroke="#000" stroke-width="1.3" fill="none">
<line x1="71.5" y1="377.5" x2="71.5" y2="370.5"/><line x1="164.4" y1="377.5" x2="164.4" y2="370.5"/><line x1="257.3" y1="377.5" x2="257.3" y2="370.5"/><line x1="350.3" y1="377.5" x2="350.3" y2="370.5"/><line x1="443.2" y1="377.5" x2="443.2" y2="370.5"/><line x1="536.1" y1="377.5" x2="536.1" y2="370.5"/>
</g>
<g font-size="18.5"><text x="71.5" y="400.3" text-anchor="middle">10</text><text x="164.4" y="400.3" text-anchor="middle">20</text><text x="257.3" y="400.3" text-anchor="middle">30</text><text x="350.3" y="400.3" text-anchor="middle">40</text><text x="443.2" y="400.3" text-anchor="middle">50</text><text x="536.1" y="400.3" text-anchor="middle">60</text></g>
<g font-size="19">
<line x1="391.5" y1="41.3" x2="429.8" y2="41.3" stroke="#4f4f4f" stroke-width="1.6"/>
<line x1="391.5" y1="64.9" x2="429.8" y2="64.9" stroke="#058505" stroke-width="1.9"/>
<text x="434.5" y="47.9">Blank</text>
<text x="434.5" y="70.9">UV+SPC</text>
<text x="285.2" y="432.2" text-anchor="middle" font-weight="bold">2 Theta(°)</text>
<text transform="translate(19.7,192.4) rotate(-90)" text-anchor="middle" font-weight="bold">Intensity(a.u.)</text>
</g>
</svg>
</body></html>
